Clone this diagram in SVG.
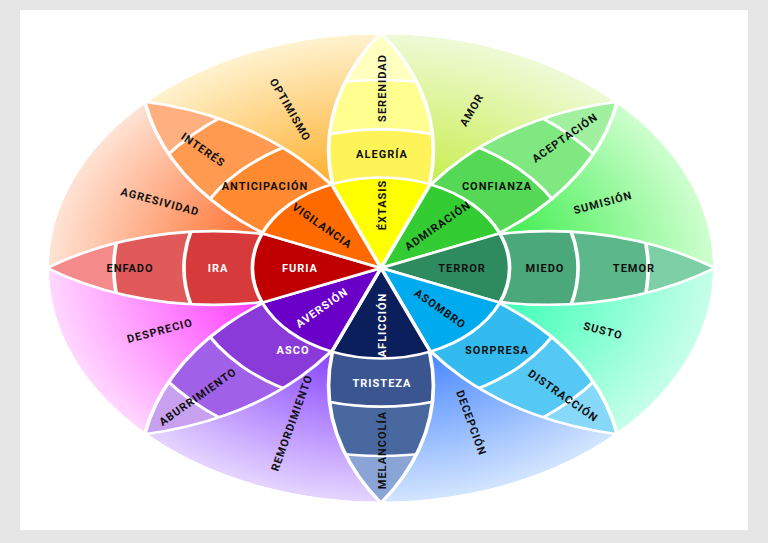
<svg xmlns="http://www.w3.org/2000/svg" xmlns:xlink="http://www.w3.org/1999/xlink" width="768" height="543" viewBox="0 0 768 543">
<style>
.s{stroke:#ffffff;stroke-width:11}
.t{font-family:Roboto,"Liberation Sans",sans-serif;font-weight:bold;font-size:11px;letter-spacing:1px;text-anchor:middle;dominant-baseline:central;fill:#111}
.w{fill:#ffffff}
</style>
<defs>
<clipPath id="lc" clipPathUnits="userSpaceOnUse"><path d="M0,0 A875,875 0 0,1 1000,0 A875,875 0 0,1 0,0 Z"/></clipPath>
<radialGradient id="g1" gradientUnits="userSpaceOnUse" cx="0" cy="0" r="1000"><stop offset="0.4" stop-color="#ffb030"/><stop offset="1" stop-color="#fff3d0"/></radialGradient>
<radialGradient id="g2" gradientUnits="userSpaceOnUse" cx="0" cy="0" r="1000"><stop offset="0.4" stop-color="#c8ee50"/><stop offset="1" stop-color="#effad8"/></radialGradient>
<radialGradient id="g3" gradientUnits="userSpaceOnUse" cx="0" cy="0" r="1000"><stop offset="0.4" stop-color="#40ee50"/><stop offset="1" stop-color="#d0ffd0"/></radialGradient>
<radialGradient id="g4" gradientUnits="userSpaceOnUse" cx="0" cy="0" r="1000"><stop offset="0.4" stop-color="#40ffb8"/><stop offset="1" stop-color="#c8ffea"/></radialGradient>
<radialGradient id="g5" gradientUnits="userSpaceOnUse" cx="0" cy="0" r="1000"><stop offset="0.4" stop-color="#4a88ff"/><stop offset="1" stop-color="#d4e6ff"/></radialGradient>
<radialGradient id="g6" gradientUnits="userSpaceOnUse" cx="0" cy="0" r="1000"><stop offset="0.4" stop-color="#8a48ff"/><stop offset="1" stop-color="#e6d6ff"/></radialGradient>
<radialGradient id="g7" gradientUnits="userSpaceOnUse" cx="0" cy="0" r="1000"><stop offset="0.4" stop-color="#ff40ff"/><stop offset="1" stop-color="#ffd8ff"/></radialGradient>
<radialGradient id="g8" gradientUnits="userSpaceOnUse" cx="0" cy="0" r="1000"><stop offset="0.4" stop-color="#ff7030"/><stop offset="1" stop-color="#ffe4d6"/></radialGradient>
</defs>
<rect x="0" y="0" width="768" height="543" fill="#e6e6e6"/>
<rect x="20" y="10" width="728" height="520" fill="#ffffff"/>
<g id="wheel" transform="translate(381,268) scale(0.334,0.235)">
<g id="dyads">
<path d="M0,0 L1000,0 A1000,1000 0 0,1 707.1,707.1 Z" transform="rotate(-135)" fill="url(#g1)" class="s"/>
<path d="M0,0 L1000,0 A1000,1000 0 0,1 707.1,707.1 Z" transform="rotate(-90)" fill="url(#g2)" class="s"/>
<path d="M0,0 L1000,0 A1000,1000 0 0,1 707.1,707.1 Z" transform="rotate(-45)" fill="url(#g3)" class="s"/>
<path d="M0,0 L1000,0 A1000,1000 0 0,1 707.1,707.1 Z" fill="url(#g4)" class="s"/>
<path d="M0,0 L1000,0 A1000,1000 0 0,1 707.1,707.1 Z" transform="rotate(45)" fill="url(#g5)" class="s"/>
<path d="M0,0 L1000,0 A1000,1000 0 0,1 707.1,707.1 Z" transform="rotate(90)" fill="url(#g6)" class="s"/>
<path d="M0,0 L1000,0 A1000,1000 0 0,1 707.1,707.1 Z" transform="rotate(135)" fill="url(#g7)" class="s"/>
<path d="M0,0 L1000,0 A1000,1000 0 0,1 707.1,707.1 Z" transform="rotate(180)" fill="url(#g8)" class="s"/>
</g>
<g id="p-up" transform="rotate(-90)"><g clip-path="url(#lc)"><circle r="1000" fill="#ffffc0"/><circle r="800" fill="#ffff90" class="s"/><circle r="590" fill="#fff35a" class="s"/></g><path d="M0,0 A875,875 0 0,1 1000,0 A875,875 0 0,1 0,0 Z" fill="none" class="s"/></g>
<g id="p-ur" transform="rotate(-45)"><g clip-path="url(#lc)"><circle r="1000" fill="#a0f0a0"/><circle r="800" fill="#80e880" class="s"/><circle r="590" fill="#55d855" class="s"/></g><path d="M0,0 A875,875 0 0,1 1000,0 A875,875 0 0,1 0,0 Z" fill="none" class="s"/></g>
<g id="p-r"><g clip-path="url(#lc)"><circle r="1000" fill="#7dd0a5"/><circle r="800" fill="#5cb88a" class="s"/><circle r="590" fill="#4aa87a" class="s"/></g><path d="M0,0 A875,875 0 0,1 1000,0 A875,875 0 0,1 0,0 Z" fill="none" class="s"/></g>
<g id="p-dr" transform="rotate(45)"><g clip-path="url(#lc)"><circle r="1000" fill="#88d8fa"/><circle r="800" fill="#55c8f5" class="s"/><circle r="590" fill="#33bbf0" class="s"/></g><path d="M0,0 A875,875 0 0,1 1000,0 A875,875 0 0,1 0,0 Z" fill="none" class="s"/></g>
<g id="p-d" transform="rotate(90)"><g clip-path="url(#lc)"><circle r="1000" fill="#8aa5d5"/><circle r="800" fill="#4a68a0" class="s"/><circle r="590" fill="#3b5590" class="s"/></g><path d="M0,0 A875,875 0 0,1 1000,0 A875,875 0 0,1 0,0 Z" fill="none" class="s"/></g>
<g id="p-dl" transform="rotate(135)"><g clip-path="url(#lc)"><circle r="1000" fill="#c8a0f0"/><circle r="800" fill="#a060e8" class="s"/><circle r="590" fill="#8a3ad8" class="s"/></g><path d="M0,0 A875,875 0 0,1 1000,0 A875,875 0 0,1 0,0 Z" fill="none" class="s"/></g>
<g id="p-l" transform="rotate(180)"><g clip-path="url(#lc)"><circle r="1000" fill="#f58a8a"/><circle r="800" fill="#e05a5a" class="s"/><circle r="590" fill="#d63a3a" class="s"/></g><path d="M0,0 A875,875 0 0,1 1000,0 A875,875 0 0,1 0,0 Z" fill="none" class="s"/></g>
<g id="p-ul" transform="rotate(-135)"><g clip-path="url(#lc)"><circle r="1000" fill="#ffb080"/><circle r="800" fill="#ff9a50" class="s"/><circle r="590" fill="#ff8a30" class="s"/></g><path d="M0,0 A875,875 0 0,1 1000,0 A875,875 0 0,1 0,0 Z" fill="none" class="s"/></g>
<g id="core">
<path d="M0,0 L355.7,-147.3 A385,385 0 0,1 355.7,147.3 Z" transform="rotate(-90)" fill="#ffff00" class="s"/>
<path d="M0,0 L355.7,-147.3 A385,385 0 0,1 355.7,147.3 Z" transform="rotate(-45)" fill="#33cc33" class="s"/>
<path d="M0,0 L355.7,-147.3 A385,385 0 0,1 355.7,147.3 Z" fill="#2e8b5f" class="s"/>
<path d="M0,0 L355.7,-147.3 A385,385 0 0,1 355.7,147.3 Z" transform="rotate(45)" fill="#00aaee" class="s"/>
<path d="M0,0 L355.7,-147.3 A385,385 0 0,1 355.7,147.3 Z" transform="rotate(90)" fill="#0a1f5c" class="s"/>
<path d="M0,0 L355.7,-147.3 A385,385 0 0,1 355.7,147.3 Z" transform="rotate(135)" fill="#6a00c8" class="s"/>
<path d="M0,0 L355.7,-147.3 A385,385 0 0,1 355.7,147.3 Z" transform="rotate(180)" fill="#c00000" class="s"/>
<path d="M0,0 L355.7,-147.3 A385,385 0 0,1 355.7,147.3 Z" transform="rotate(-135)" fill="#ff6a00" class="s"/>
</g>
<circle r="1000" fill="none" class="s"/>
</g>
<g id="labels">
<text class="t" transform="translate(382,88) rotate(-90)">SERENIDAD</text>
<text class="t" x="382" y="154">ALEGRÍA</text>
<text class="t" transform="translate(382,205) rotate(-90)">ÉXTASIS</text>
<text class="t" transform="translate(290,110) rotate(60)">OPTIMISMO</text>
<text class="t" transform="translate(472,110) rotate(-60)">AMOR</text>
<text class="t" transform="translate(203,150) rotate(35)">INTERÉS</text>
<text class="t" x="265" y="186">ANTICIPACIÓN</text>
<text class="t" transform="translate(322,226) rotate(35)">VIGILANCIA</text>
<text class="t" x="497" y="186">CONFIANZA</text>
<text class="t" transform="translate(565,138) rotate(-35)">ACEPTACIÓN</text>
<text class="t" transform="translate(438,226) rotate(-35)">ADMIRACIÓN</text>
<text class="t" transform="translate(160,202) rotate(15)">AGRESIVIDAD</text>
<text class="t" transform="translate(603,203) rotate(-15)">SUMISIÓN</text>
<text class="t" x="130" y="268">ENFADO</text>
<text class="t w" x="218" y="268">IRA</text>
<text class="t w" x="300" y="268">FURIA</text>
<text class="t" x="462" y="268">TERROR</text>
<text class="t" x="545" y="268">MIEDO</text>
<text class="t" x="634" y="268">TEMOR</text>
<text class="t" transform="translate(160,331) rotate(-15)">DESPRECIO</text>
<text class="t" transform="translate(603,331) rotate(15)">SUSTO</text>
<text class="t w" transform="translate(322,308) rotate(-35)">AVERSIÓN</text>
<text class="t" transform="translate(440,309) rotate(35)">ASOMBRO</text>
<text class="t w" x="293" y="350">ASCO</text>
<text class="t" x="497" y="350">SORPRESA</text>
<text class="t w" transform="translate(382,325) rotate(-90)">AFLICCIÓN</text>
<text class="t w" x="382" y="383">TRISTEZA</text>
<text class="t" transform="translate(198,397) rotate(-35)">ABURRIMIENTO</text>
<text class="t" transform="translate(563,396) rotate(35)">DISTRACCIÓN</text>
<text class="t" transform="translate(292,423) rotate(-70)">REMORDIMIENTO</text>
<text class="t" transform="translate(471,423) rotate(70)">DECEPCIÓN</text>
<text class="t" transform="translate(382,450) rotate(-90)">MELANCOLÍA</text>
</g>
</svg>
